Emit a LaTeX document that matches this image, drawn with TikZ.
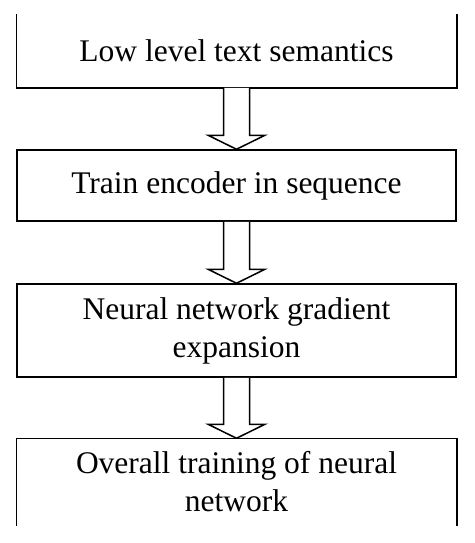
\documentclass[tikz,border=0pt]{standalone}
\usepackage{fontspec}
\setmainfont{Liberation Serif}
\usetikzlibrary{calc}
\begin{document}
\begin{tikzpicture}[x=1pt,y=-1pt,
  box/.style={minimum width=439pt,inner sep=0pt,align=center,font=\fontsize{31.5}{38}\selectfont,line width=1.5pt},
  hollow/.style={draw=black,fill=white,line width=1.5pt,line join=miter}]
\useasboundingbox (0,0) rectangle (474,543);
\node[box,minimum height=72pt] (b1) at (236.5,51) {Low level text semantics};
\node[box,draw,minimum height=71pt] (b2) at (236.5,185.5) {Train encoder in sequence};
\node[box,draw,minimum height=93pt] (b3) at (236.5,330.5) {Neural network gradient\\expansion};
\node[box,minimum height=86pt] (b4) at (236.5,482) {Overall training of neural\\network};
\draw[line width=1.5pt] (b1.north west) -- (b1.south west) -- (b1.south east) -- (b1.north east);
\draw[line width=1.5pt] (b4.south west) -- (b4.north west) -- (b4.north east) -- (b4.south east);
\foreach \a/\b in {b1/b2,b2/b3,b3/b4}{
  \draw[hollow] ($(\a.south)+(-13,0)$) -- ($(\b.north)+(-13,-14)$) -- ($(\b.north)+(-28.5,-14)$) -- (\b.north)
    -- ($(\b.north)+(28.5,-14)$) -- ($(\b.north)+(13,-14)$) -- ($(\a.south)+(13,0)$);
}
\end{tikzpicture}
\end{document}
